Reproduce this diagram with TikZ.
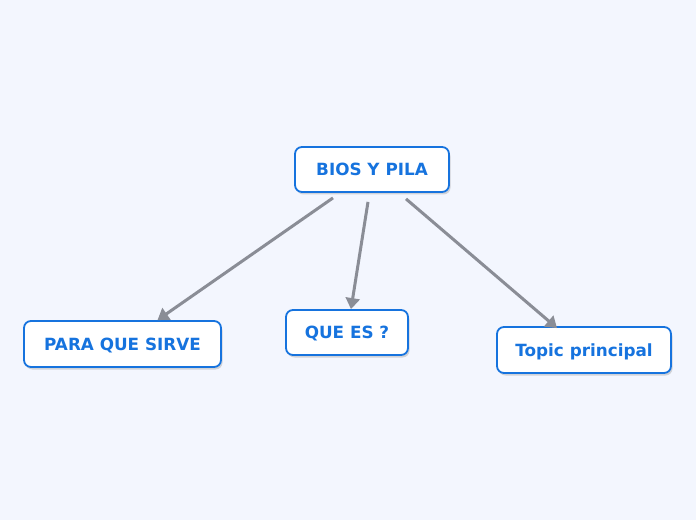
\documentclass[tikz,border=0pt]{standalone}
\usepackage{fontspec}
\setmainfont{DejaVu Sans}
\usetikzlibrary{shadows,calc,arrows.meta}
\definecolor{bg}{HTML}{F3F6FE}
\definecolor{blu}{HTML}{1673DE}
\definecolor{arr}{HTML}{8A8D96}
\tikzset{
  x=1pt,y=1pt,
  box/.style={draw=blu,line width=1.8pt,rounded corners=7pt,fill=white,
    text=blu,font=\bfseries\fontsize{16.8}{19}\selectfont,inner sep=0pt,
    text depth=0pt,
    drop shadow={shadow xshift=1.5pt,shadow yshift=-2.5pt,opacity=0.3}},
  conn/.style={draw=arr,line width=3pt,-{Triangle[length=11pt,width=14pt]}}
}
\begin{document}
\begin{tikzpicture}
\fill[bg] (0,0) rectangle (696,520);
\useasboundingbox (0,0) rectangle (696,520);
\node[box,minimum width=154pt,minimum height=45pt] (root) at (372,350.5) {BIOS Y PILA};
\node[box,minimum width=197pt,minimum height=46pt] (para) at (122.5,176) {PARA QUE SIRVE};
\node[box,minimum width=122pt,minimum height=45pt] (que) at (347,187.5) {QUE ES ?};
\node[box,minimum width=174pt,minimum height=46pt] (topic) at (584,170) {Topic principal};
\draw[conn] ($(root.south)+(-39,-5)$) -- ($(para.north)+(35,0)$);
\draw[conn] ($(root.south)+(-4,-9)$) -- ($(que.north)+(4,0)$);
\draw[conn] ($(root.south)+(34,-6)$) -- ($(topic.north)+(-27,-2)$);
\end{tikzpicture}
\end{document}
